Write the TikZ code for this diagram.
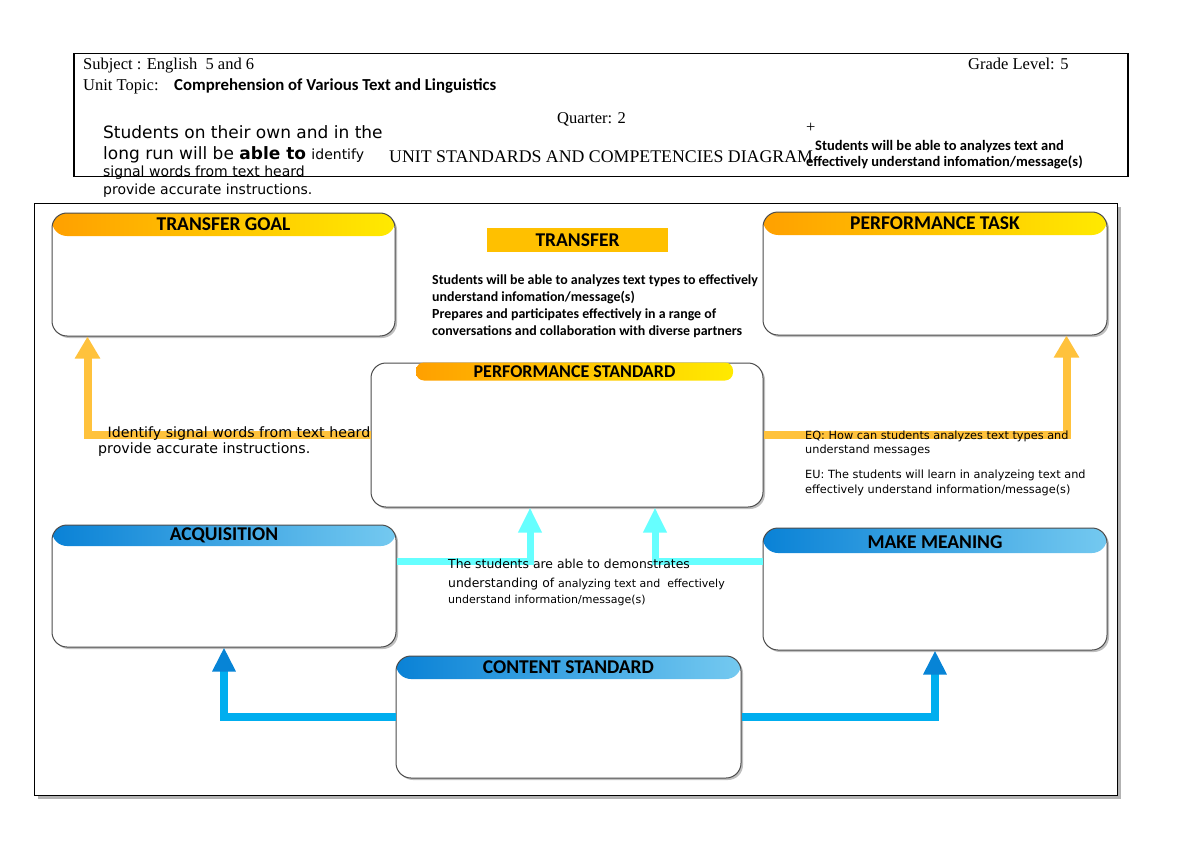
\documentclass[tikz,border=0pt]{standalone}
\usepackage{fontspec}
\setmainfont{Liberation Serif}
\newfontfamily\carlito{Carlito}
\newfontfamily\dejavu{DejaVu Sans}
\usetikzlibrary{positioning,shadows,arrows.meta}

\definecolor{goldA}{HTML}{FFA000}
\definecolor{goldB}{HTML}{FFEA00}
\definecolor{blueA}{HTML}{0A82D6}
\definecolor{blueB}{HTML}{74C9F0}
\definecolor{arrOrange}{HTML}{FFC23C}
\definecolor{arrCyan}{HTML}{66FFFF}
\definecolor{arrBlue}{HTML}{00AEEF}
\definecolor{tipBlue}{HTML}{0784D6}
\definecolor{bandGold}{HTML}{FFC000}

\tikzset{
  stdbox/.style={draw=gray!60!black, line width=1pt, rounded corners=15pt, fill=white,
    drop shadow={shadow xshift=2pt, shadow yshift=-2pt, opacity=0.5}},
  goldhead/.style={path picture={\shade[left color=goldA, right color=goldB]
    (path picture bounding box.north west) rectangle ([yshift=-#1]path picture bounding box.north east);}},
  bluehead/.style={path picture={\shade[left color=blueA, right color=blueB]
    (path picture bounding box.north west) rectangle ([yshift=-#1]path picture bounding box.north east);}},
  headtitle/.style={inner sep=0pt, font=\fontsize{19.5}{22}\selectfont\carlito\bfseries},
  serif/.style={inner sep=0pt, anchor=base west, font=\fontsize{16.5}{19}\selectfont},
  goldarrow/.style={draw=arrOrange, line width=8pt, -{Triangle[width=24pt,length=22pt]}},
  cyanarrow/.style={draw=arrCyan, line width=7pt, -{Triangle[width=22pt,length=25pt]}},
  bluearrow/.style={draw=arrBlue, line width=8pt, -{Triangle[width=22pt,length=24pt,color=tipBlue]}},
  note/.style={inner sep=0pt, anchor=base west}
}

\begin{document}
\begin{tikzpicture}[x=1pt,y=-1pt]
\useasboundingbox (0,0) rectangle (1200,848);

% header
\node[draw, line width=1.5pt, minimum width=1054pt, minimum height=123pt, anchor=north west] (head) at (73,53) {};
\node[serif] (subject) at (83,70) {Subject : English\ \ 5 and 6};
\node[serif] (grade) at (968,70) {Grade Level: 5};
\node[serif] (unit) at (83,91) {Unit Topic:};
\node[note, font=\fontsize{16.8}{18}\selectfont\carlito\bfseries] (topic) at (174,91) {Comprehension of Various Text and Linguistics};
\node[serif] (quarter) at (557,124) {Quarter: 2};
\node[serif, font=\fontsize{17.8}{20}\selectfont] (diagtitle) at (389,163) {UNIT STANDARDS AND COMPETENCIES DIAGRAM};
\node[serif] (plus) at (806,133) {+};
\node[note, font=\fontsize{14.5}{16}\selectfont\carlito\bfseries] (goal1) at (815,150) {Students will be able to analyzes text and};
\node[note, font=\fontsize{14.5}{16}\selectfont\carlito\bfseries] (goal2) at (806,167) {effectively understand infomation/message(s)};
\node[note, font=\fontsize{17}{19}\selectfont\dejavu] (own1) at (103,139) {Students on their own and in the};
\node[note, font=\fontsize{17}{19}\selectfont\dejavu] (own2) at (103,160) {long run will be \textbf{able to} {\fontsize{14}{16}\selectfont identify}};
\node[note, font=\fontsize{14}{16}\selectfont\dejavu] (own3) at (103,177) {signal words from text heard};
\node[note, font=\fontsize{14}{16}\selectfont\dejavu] (own4) at (103,194) {provide accurate instructions.};

% frame
\node[draw, line width=1pt, fill=white, minimum width=1083pt, minimum height=592pt,
  drop shadow={shadow xshift=4pt, shadow yshift=-4pt, opacity=0.6}] (frame) at (575.5,499) {};

% boxes
\node[stdbox, goldhead=23pt, minimum width=343pt, minimum height=123pt] (tgoal) at (223.5,274.5) {};
\node[stdbox, goldhead=23pt, minimum width=344pt, minimum height=123pt] (ptask) at (935,273.5) {};
\node[stdbox, minimum width=392pt, minimum height=144pt] (pstd) at (567,435) {};
\node[stdbox, bluehead=21pt, minimum width=344pt, minimum height=122pt] (acq) at (224,586) {};
\node[stdbox, bluehead=25pt, minimum width=344pt, minimum height=122pt] (mmean) at (935,589) {};
\node[stdbox, bluehead=23pt, minimum width=345pt, minimum height=122pt] (cstd) at (568.5,717) {};

% arrows
\draw[goldarrow] (pstd.west) -| ([xshift=36pt]tgoal.south west);
\draw[goldarrow] (pstd.east) -| ([xshift=-41pt]ptask.south east);
\draw[cyanarrow] ([yshift=25pt]acq.east) -| ([xshift=-37pt]pstd.south);
\draw[cyanarrow] ([yshift=28pt]mmean.west) -| ([xshift=88pt]pstd.south);
\draw[bluearrow] (cstd.west) -| (acq.south);
\draw[bluearrow] (cstd.east) -| (mmean.south);

% titles
\node[headtitle] (tgoalT) at ([yshift=-12pt]tgoal.north) {TRANSFER GOAL};
\node[headtitle] (ptaskT) at ([yshift=-12pt]ptask.north) {PERFORMANCE TASK};
\node[headtitle] (acqT) at ([yshift=-11pt]acq.north) {ACQUISITION};
\node[headtitle] (mmeanT) at ([yshift=-15pt]mmean.north) {MAKE MEANING};
\node[headtitle] (cstdT) at ([yshift=-12pt]cstd.north) {CONTENT STANDARD};
\node[headtitle, left color=goldA, right color=goldB, rounded corners=8pt,
  minimum width=317pt, minimum height=18pt, font=\fontsize{18}{20}\selectfont\carlito\bfseries] (pstdT) at (574.5,371.5) {PERFORMANCE STANDARD};
\node[headtitle, fill=bandGold, minimum width=181pt, minimum height=24pt] (transfer) at (577.5,240) {TRANSFER};

% texts
\node[anchor=north west, inner sep=0pt, align=left, font=\fontsize{13.9}{17}\selectfont\carlito\bfseries] (transfertxt) at (432,275)
  {Students will be able to analyzes text types to effectively\\
   understand infomation/message(s)\\
   Prepares and participates effectively in a range of\\
   conversations and collaboration with diverse partners};
\node[note, font=\fontsize{14.2}{16}\selectfont\dejavu] (id1) at (103,437) {\ Identify signal words from text heard};
\node[note, font=\fontsize{14.2}{16}\selectfont\dejavu] (id2) at (98,453.5) {provide accurate instructions.};
\node[note, font=\fontsize{11.3}{13}\selectfont\dejavu] (eq1) at (805,439) {EQ: How can students analyzes text types and};
\node[note, font=\fontsize{11.3}{13}\selectfont\dejavu] (eq2) at (805,453) {understand messages};
\node[note, font=\fontsize{11.3}{13}\selectfont\dejavu] (eu1) at (805,478) {EU: The students will learn in analyzeing text and};
\node[note, font=\fontsize{11.3}{13}\selectfont\dejavu] (eu2) at (805,493) {effectively understand information/message(s)};
\node[note, font=\fontsize{12.4}{14}\selectfont\dejavu] (cs1) at (448,568) {The students are able to demonstrates};
\node[note, font=\fontsize{12.4}{14}\selectfont\dejavu] (cs2) at (448,587) {understanding of {\fontsize{11}{13}\selectfont analyzing text and\ \ effectively}};
\node[note, font=\fontsize{11}{13}\selectfont\dejavu] (cs3) at (448,603) {understand information/message(s)};
\end{tikzpicture}
\end{document}
